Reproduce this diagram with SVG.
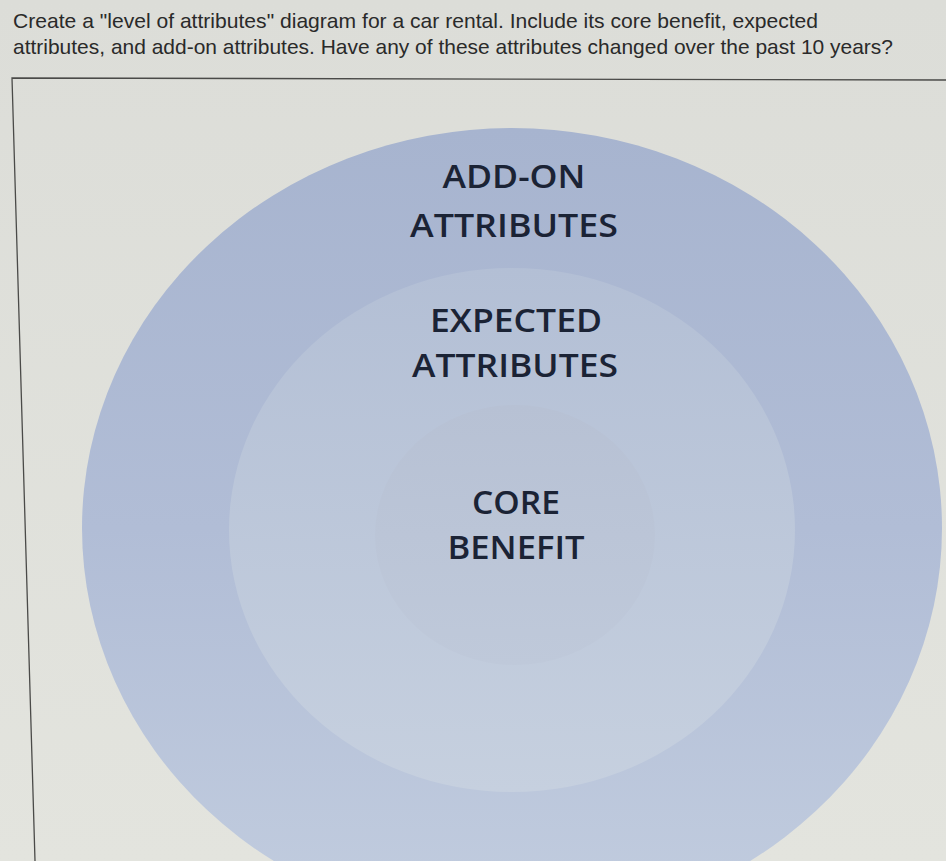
<svg xmlns="http://www.w3.org/2000/svg" width="946" height="861" viewBox="0 0 946 861">
  <defs>
    <linearGradient id="gOuter" x1="0" y1="0" x2="0" y2="1">
      <stop offset="0" stop-color="#a7b4cf"/>
      <stop offset="0.5" stop-color="#b1bdd6"/>
      <stop offset="1" stop-color="#c2cddf"/>
    </linearGradient>
    <linearGradient id="gMid" x1="0" y1="0" x2="0" y2="1">
      <stop offset="0" stop-color="#b3bfd5"/>
      <stop offset="1" stop-color="#c6d0df"/>
    </linearGradient>
    <linearGradient id="gInner" x1="0" y1="0" x2="0" y2="1">
      <stop offset="0" stop-color="#b7c1d4"/>
      <stop offset="1" stop-color="#bfc9da"/>
    </linearGradient>
    <linearGradient id="gBg" x1="0" y1="0" x2="0" y2="1">
      <stop offset="0" stop-color="#dcddd8"/>
      <stop offset="1" stop-color="#e3e4de"/>
    </linearGradient>
  </defs>
  <style>
    .q { font-family: "Liberation Sans", Arial, sans-serif; font-size: 21px; fill: #2a2a2a; }
    .lbl { font-family: "Open Sans", "Noto Sans", sans-serif; font-weight: 600; font-size: 33px; fill: #1b2335; text-anchor: middle; }
    .frame { stroke: #4a4a48; stroke-width: 1.3; fill: none; }
  </style>
  <rect x="0" y="0" width="946" height="861" fill="url(#gBg)"/>
  <text class="q" x="13" y="28" textLength="805" lengthAdjust="spacingAndGlyphs">Create a "level of attributes" diagram for a car rental. Include its core benefit, expected</text>
  <text class="q" x="13" y="54" textLength="880" lengthAdjust="spacingAndGlyphs">attributes, and add-on attributes. Have any of these attributes changed over the past 10 years?</text>
  <path class="frame" d="M946 80 L12 78 L35 861"/>

  <g id="add-on">
    <ellipse cx="512" cy="528" rx="430" ry="400" fill="url(#gOuter)"/>
    <text class="lbl" x="514" y="188" textLength="143" lengthAdjust="spacingAndGlyphs">ADD-ON</text>
    <text class="lbl" x="514" y="237" textLength="208" lengthAdjust="spacingAndGlyphs">ATTRIBUTES</text>
  </g>
  <g id="expected">
    <ellipse cx="512" cy="530" rx="283" ry="262" fill="url(#gMid)"/>
    <text class="lbl" x="516" y="332" textLength="172" lengthAdjust="spacingAndGlyphs">EXPECTED</text>
    <text class="lbl" x="515" y="377" textLength="206" lengthAdjust="spacingAndGlyphs">ATTRIBUTES</text>
  </g>
  <g id="core">
    <ellipse cx="515" cy="535" rx="140" ry="130" fill="url(#gInner)"/>
    <text class="lbl" x="516" y="514" textLength="88" lengthAdjust="spacingAndGlyphs">CORE</text>
    <text class="lbl" x="516" y="559" textLength="137" lengthAdjust="spacingAndGlyphs">BENEFIT</text>
  </g>
  <g id="connectors"/>
</svg>
